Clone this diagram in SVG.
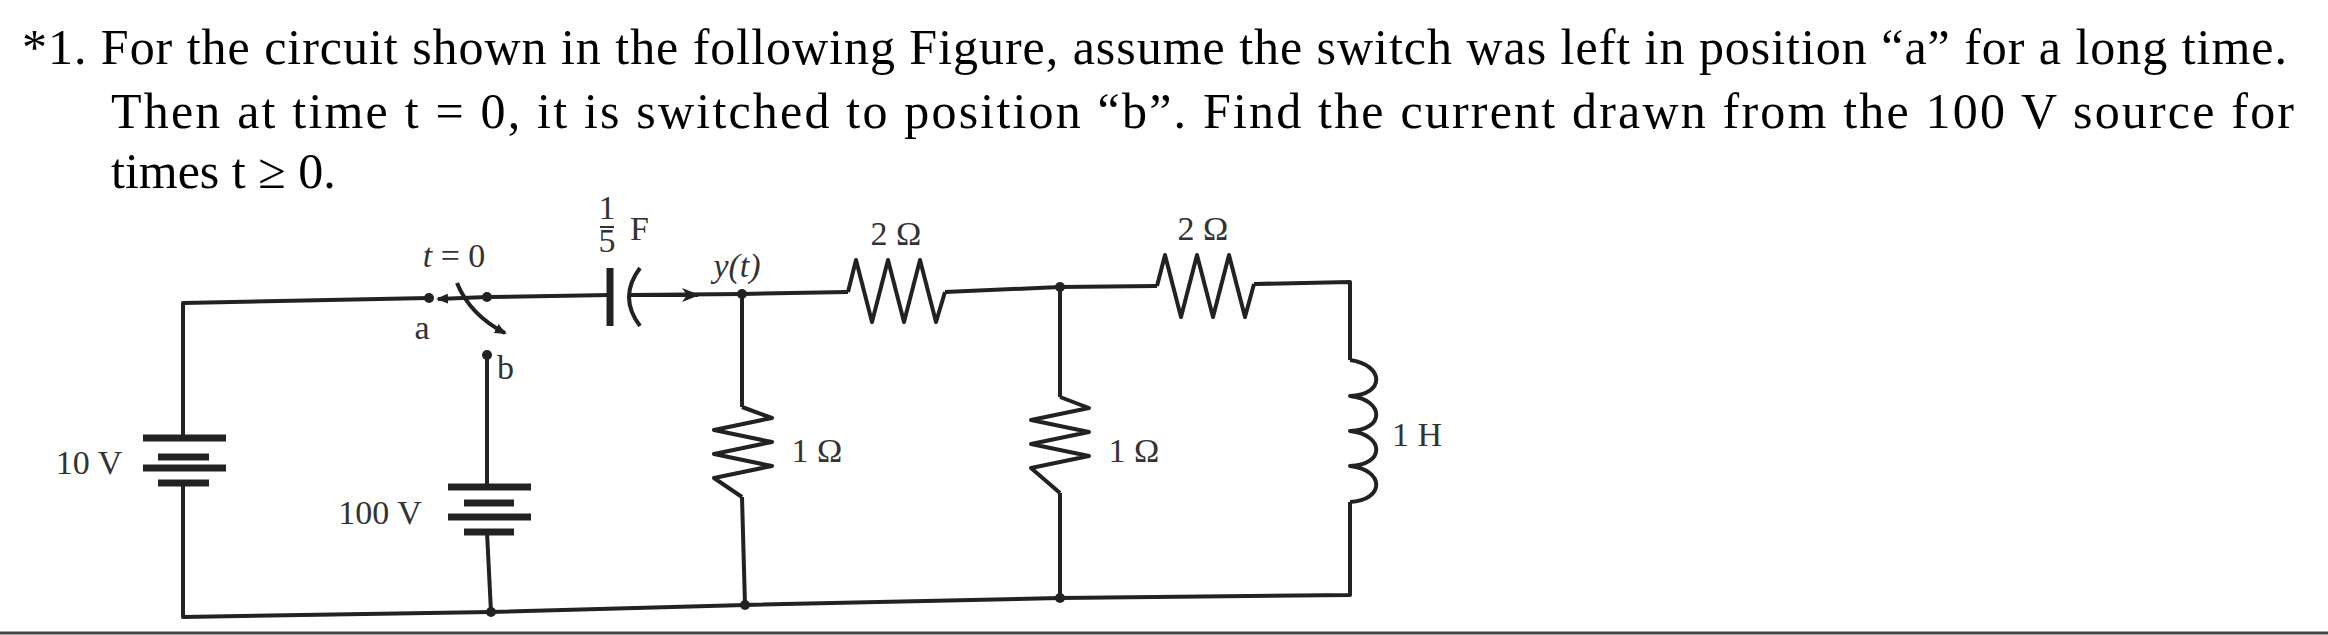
<svg xmlns="http://www.w3.org/2000/svg" width="2328" height="635" viewBox="0 0 2328 635">
<style>
.t{font-family:"Liberation Serif",serif;font-size:50px;fill:#000}
.l{font-family:"Liberation Serif",serif;font-size:34px;fill:#333}
.w{fill:none;stroke:#222;stroke-width:4;stroke-linejoin:round}
.p{stroke:#222;stroke-width:7}
.d{fill:#222}
</style>
<defs><marker id="ah" markerWidth="18" markerHeight="14" refX="16" refY="7" orient="auto" markerUnits="userSpaceOnUse"><path d="M0,0 L18,7 L0,14 L5,7 z" fill="#222"/></marker>
<marker id="as" markerWidth="12" markerHeight="10" refX="10" refY="5" orient="auto" markerUnits="userSpaceOnUse"><path d="M0,0 L12,5 L0,10 z" fill="#222"/></marker></defs>
<rect width="2328" height="635" fill="#fff"/>
<g id="text">
<text class="t" x="22" y="64" textLength="2265" lengthAdjust="spacing">*1. For the circuit shown in the following Figure, assume the switch was left in position “a” for a long time.</text>
<text class="t" x="111" y="128" textLength="2183" lengthAdjust="spacing">Then at time t = 0, it is switched to position “b”. Find the current drawn from the 100 V source for</text>
<text class="t" x="111" y="188">times t ≥ 0.</text>
</g>
<g id="connectors">
<path class="w" d="M429,298 L183,303 L183,438 M183,483 L183,617 L491,612 L745,605 L1060,598 L1350,595 L1350,502"/>
<path class="w" d="M487,297 L610,295 M630,295 L742,294 L848,292 M945,292 L1060,287 L1157,286 M1254,284 L1350,282 L1350,360"/>
<path class="w" d="M487,355 L487,487 M487,532 L491,612"/>
<path class="w" d="M742,294 L742,407 M742,497 L745,605"/>
<path class="w" d="M1060,287 L1060,397 M1060,493 L1060,598"/>
<path class="w" d="M630,295 L698,295" marker-end="url(#ah)"/>
</g>
<g id="switch">
<circle class="d" cx="429" cy="298" r="5"/><circle class="d" cx="487" cy="297" r="5"/><circle class="d" cx="487" cy="355" r="5"/>
<path class="w" d="M487,297 L438,299" marker-end="url(#as)" stroke-width="3"/>
<path class="w" d="M457,283 Q470,315 505,333" stroke-width="3" marker-end="url(#as)"/>
<text class="l" x="454" y="267" text-anchor="middle"><tspan font-style="italic">t</tspan> = 0</text>
<text class="l" x="422" y="339" text-anchor="middle">a</text>
<text class="l" x="497" y="379">b</text>
</g>
<g id="cap">
<line class="p" x1="610" y1="268" x2="610" y2="326" stroke-width="5"/>
<path class="w" d="M640,268 Q618,297 640,326" stroke-width="5"/>
<text class="l" x="607" y="219" text-anchor="middle" font-size="22">1</text>
<line x1="600" y1="227" x2="614" y2="227" stroke="#333" stroke-width="2"/>
<text class="l" x="607" y="252" text-anchor="middle" font-size="22">5</text>
<text class="l" x="630" y="240">F</text>
</g>
<g id="node-y"><circle class="d" cx="742" cy="294" r="5"/><text class="l" x="737" y="277" text-anchor="middle" font-style="italic">y(t)</text></g>
<g id="bat10">
<line class="p" x1="143" y1="438" x2="226" y2="438"/><line class="p" x1="158" y1="457" x2="209" y2="457"/>
<line class="p" x1="143" y1="468" x2="226" y2="468"/><line class="p" x1="158" y1="483" x2="209" y2="483"/>
<text class="l" x="89" y="474" text-anchor="middle">10 V</text>
</g>
<g id="bat100">
<line class="p" x1="448" y1="487" x2="531" y2="487"/><line class="p" x1="464" y1="503" x2="514" y2="503"/>
<line class="p" x1="448" y1="517" x2="531" y2="517"/><line class="p" x1="464" y1="532" x2="514" y2="532"/>
<text class="l" x="380" y="524" text-anchor="middle">100 V</text>
</g>
<g id="r1"><path class="w" stroke-width="5" d="M742,407 L772,418 L714,430 L772,442 L714,454 L772,466 L714,478 L742,497"/><text class="l" x="817" y="462" text-anchor="middle">1 Ω</text></g>
<g id="r2"><path class="w" stroke-width="5" d="M848,292 L856,260 L872,322 L888,260 L904,322 L920,260 L936,322 L945,292"/><text class="l" x="896" y="245" text-anchor="middle">2 Ω</text></g>
<g id="node-m"><circle class="d" cx="1060" cy="287" r="5"/><circle class="d" cx="745" cy="605" r="5"/><circle class="d" cx="491" cy="612" r="5"/><circle class="d" cx="1060" cy="598" r="5"/></g>
<g id="r3"><path class="w" stroke-width="5" d="M1060,397 L1089,408 L1031,420 L1089,432 L1031,444 L1089,456 L1031,468 L1060,493"/><text class="l" x="1134" y="462" text-anchor="middle">1 Ω</text></g>
<g id="r4"><path class="w" stroke-width="5" d="M1157,286 L1165,255 L1181,317 L1197,255 L1213,317 L1229,255 L1245,317 L1254,284"/><text class="l" x="1203" y="240" text-anchor="middle">2 Ω</text></g>
<g id="ind"><path class="w" stroke-width="5" d="M1350,360 C1385,365 1385,395 1350,396 C1385,400 1385,430 1350,431 C1385,435 1385,465 1350,466 C1385,470 1385,500 1350,502"/><text class="l" x="1417" y="446" text-anchor="middle">1 H</text></g>
<line x1="0" y1="633" x2="2328" y2="633" stroke="#444" stroke-width="3"/>
</svg>
